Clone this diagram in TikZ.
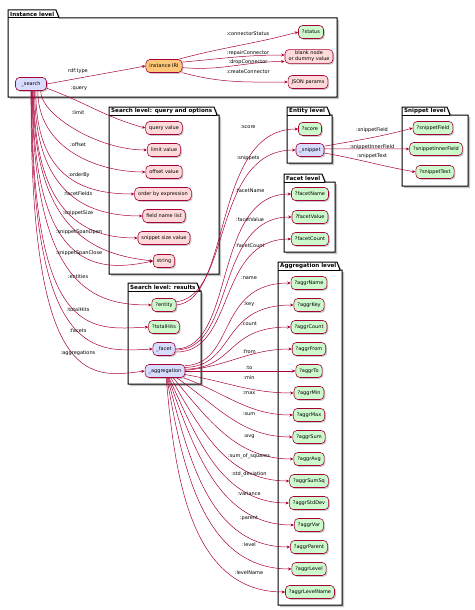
\documentclass[tikz,border=0pt]{standalone}
\usepackage{fontspec}
\setmainfont{DejaVu Sans}
\usetikzlibrary{arrows.meta,shadows}

\definecolor{umlred}{HTML}{A80036}
\definecolor{litpink}{HTML}{FFDADA}
\definecolor{vargreen}{HTML}{CCFACC}
\definecolor{bnodeblue}{HTML}{D8DCFF}
\definecolor{iriorange}{HTML}{FFC878}

\begin{document}
\begin{tikzpicture}[x=1pt,y=-1pt,font=\fontsize{5}{6}\selectfont]
    \tikzstyle{term}=[draw=umlred,line width=0.6pt,rounded corners=4pt,minimum height=13pt,inner xsep=3.5pt,inner ysep=1.5pt,align=center,drop shadow={shadow xshift=1.3pt,shadow yshift=-1.3pt,fill=black!40}]
    \tikzstyle{litterm}=[term,fill=litpink]
    \tikzstyle{varterm}=[term,fill=vargreen]
    \tikzstyle{bnodeterm}=[term,fill=bnodeblue]
    \tikzstyle{iriterm}=[term,fill=iriorange]
    \tikzstyle{prop}=[umlred,line width=0.5pt,-{Stealth[length=3.5pt,width=3pt]}]
    \tikzstyle{prop label}=[inner sep=0.5pt]
    \tikzstyle{package}=[draw=black,line width=1pt,fill=white,drop shadow={shadow xshift=2pt,shadow yshift=-2pt,fill=black!45}]
    \tikzstyle{package title}=[anchor=west,inner sep=0pt,font=\fontsize{5.6}{6}\selectfont\bfseries]

    \fill[white] (0,0) rectangle (474,610);

    % packages
    \draw[package] (8,10) -- (56,10) -- (59,18) -- (337,18) -- (337,97) -- (8,97) -- cycle;
    \draw[line width=1pt] (8,18) -- (59,18);
    \node[package title] (instanceLevel) at (10,14) {Instance level};

    \draw[package] (109,107) -- (214,107) -- (217,115) -- (219,115) -- (219,274) -- (109,274) -- cycle;
    \draw[line width=1pt] (109,115) -- (217,115);
    \node[package title] (optionsLevel) at (111,111) {Search level: query and options};

    \draw[package] (287,107) -- (327,107) -- (330,115) -- (332,115) -- (332,163) -- (287,163) -- cycle;
    \draw[line width=1pt] (287,115) -- (330,115);
    \node[package title] (entityLevel) at (289,111) {Entity level};

    \draw[package] (402,107) -- (447,107) -- (450,115) -- (468,115) -- (468,186) -- (402,186) -- cycle;
    \draw[line width=1pt] (402,115) -- (450,115);
    \node[package title] (snippetLevel) at (404,111) {Snippet level};

    \draw[package] (284,174) -- (322,174) -- (325,182) -- (335,182) -- (335,252) -- (284,252) -- cycle;
    \draw[line width=1pt] (284,182) -- (325,182);
    \node[package title] (facetLevel) at (286,178) {Facet level};

    \draw[package] (128,283) -- (197,283) -- (200,291) -- (201,291) -- (201,384) -- (128,384) -- cycle;
    \draw[line width=1pt] (128,291) -- (200,291);
    \node[package title] (resultsLevel) at (130,287) {Search level: results};

    \draw[package] (278,262) -- (337,262) -- (340,270) -- (342,270) -- (342,605) -- (278,605) -- cycle;
    \draw[line width=1pt] (278,270) -- (340,270);
    \node[package title] (aggregationLevel) at (280,266) {Aggregation level};

    % instance level
    \node[bnodeterm,minimum width=31pt] (search) at (31,84) {\_search};
    \node[iriterm] (iri) at (164,66) {instance IRI};
    \node[varterm] (status) at (311,32) {?status};
    \node[litterm] (dummy) at (309,56.5) {blank node\\or dummy value};
    \node[litterm] (jsonParams) at (308,82) {JSON params};

    % query and options
    \node[litterm] (queryValue) at (164,128) {query value};
    \node[litterm] (limitValue) at (164,150) {limit value};
    \node[litterm] (offsetValue) at (164,172) {offset value};
    \node[litterm] (orderExpr) at (163,194) {order by expression};
    \node[litterm] (fieldList) at (164,216) {field name list};
    \node[litterm] (sizeValue) at (164,238) {snippet size value};
    \node[litterm] (spanString) at (164,261) {string};

    % results
    \node[varterm] (entity) at (164,305) {?entity};
    \node[varterm] (totalHits) at (164,327) {?totalHits};
    \node[bnodeterm] (facet) at (164,349) {\_facet};
    \node[bnodeterm] (aggregation) at (165,371) {\_aggregation};

    % entity and snippets
    \node[varterm] (score) at (310,129) {?score};
    \node[bnodeterm] (snippet) at (310,150) {\_snippet};
    \node[varterm] (snippetField) at (433,128) {?snippetField};
    \node[varterm] (snippetInner) at (436,149) {?snippetInnerField};
    \node[varterm] (snippetText) at (435,172) {?snippetText};

    % facets
    \node[varterm] (facetName) at (310,194) {?facetName};
    \node[varterm] (facetValue) at (310,217) {?facetValue};
    \node[varterm] (facetCount) at (310,239) {?facetCount};

    % aggregations
    \node[varterm] (aggrName) at (309,283) {?aggrName};
    \node[varterm] (aggrKey) at (309,305) {?aggrKey};
    \node[varterm] (aggrCount) at (309,327) {?aggrCount};
    \node[varterm] (aggrFrom) at (309,349) {?aggrFrom};
    \node[varterm] (aggrTo) at (309,371) {?aggrTo};
    \node[varterm] (aggrMin) at (309,393) {?aggrMin};
    \node[varterm] (aggrMax) at (309,415) {?aggrMax};
    \node[varterm] (aggrSum) at (309,437) {?aggrSum};
    \node[varterm] (aggrAvg) at (309,459) {?aggrAvg};
    \node[varterm] (aggrSumSq) at (309,481) {?aggrSumSq};
    \node[varterm] (aggrStdDev) at (309,503) {?aggrStdDev};
    \node[varterm] (aggrVar) at (309,525) {?aggrVar};
    \node[varterm] (aggrParent) at (309,547) {?aggrParent};
    \node[varterm] (aggrLevel) at (309,569) {?aggrLevel};
    \node[varterm] (aggrLevelName) at (310,592) {?aggrLevelName};

    % connector properties
    \draw[prop] (search.east) -- (iri.west);
    \draw[prop] (iri.25) to[out=15,in=195] (status.west);
    \draw[prop] (iri.12) to[out=5,in=180] ([yshift=1.5pt]dummy.west);
    \draw[prop] (iri.-5) to[out=-5,in=180] ([yshift=-5pt]dummy.west);
    \draw[prop] (iri.-20) to[out=-15,in=180] (jsonParams.west);
    \node[prop label] (lblType) at (78,71) {rdf:type};
    \node[prop label] (lblStatus) at (248,34) {:connectorStatus};
    \node[prop label] (lblRepair) at (248,53) {:repairConnector};
    \node[prop label] (lblDrop) at (248,62) {:dropConnector};
    \node[prop label] (lblCreate) at (248,72) {:createConnector};

    % search properties
    \draw[prop] (search.-15) to[out=-20,in=165] (queryValue.west);
    \draw[prop] (search.-35) .. controls (40,114) and (97,150) .. (limitValue.west);
    \draw[prop] (search.-45) .. controls (38,148) and (96,172) .. (offsetValue.west);
    \draw[prop] (search.-55) .. controls (36,178) and (83,194) .. (orderExpr.west);
    \draw[prop] (search.-62) .. controls (35,199) and (92,216) .. (fieldList.west);
    \draw[prop] (search.-68) .. controls (34,218) and (88,238) .. (sizeValue.west);
    \draw[prop] (search.-72) .. controls (33,237) and (100,255) .. (spanString.west);
    \draw[prop] (search.-76) .. controls (33,275) and (100,272) .. (spanString.west);
    \draw[prop] (search.-80) .. controls (33,290) and (95,305) .. (entity.west);
    \draw[prop] (search.-84) .. controls (32,340) and (90,330) .. (totalHits.west);
    \draw[prop] (search.-87) .. controls (31,362) and (95,352) .. (facet.west);
    \draw[prop] (search.-90) .. controls (30,390) and (90,378) .. (aggregation.west);
    \node[prop label] (lblQuery) at (79,89) {:query};
    \node[prop label] (lblLimit) at (78,113) {:limit};
    \node[prop label] (lblOffset) at (78,145) {:offset};
    \node[prop label] (lblOrder) at (79,175) {:orderBy};
    \node[prop label] (lblFields) at (78,194) {:facetFields};
    \node[prop label] (lblSize) at (78,213) {:snippetSize};
    \node[prop label] (lblOpen) at (79,232) {:snippetSpanOpen};
    \node[prop label] (lblClose) at (79,253) {:snippetSpanClose};
    \node[prop label] (lblEntities) at (78,277) {:entities};
    \node[prop label] (lblHits) at (78,310) {:totalHits};
    \node[prop label] (lblFacets) at (78,331) {:facets};
    \node[prop label] (lblAggrs) at (78,353) {:aggregations};

    % entity and snippet properties
    \draw[prop] (entity.east) .. controls (232,300) and (212,129) .. (score.west);
    \draw[prop] (entity.15) .. controls (232,296) and (212,150) .. (snippet.west);
    \draw[prop] (snippet.15) to[out=10,in=195] (snippetField.west);
    \draw[prop] (snippet.5) -- (snippetInner.west);
    \draw[prop] (snippet.-12) to[out=-10,in=170] (snippetText.west);
    \node[prop label] (lblScore) at (248,127) {:score};
    \node[prop label] (lblSnippets) at (248,158) {:snippets};
    \node[prop label] (lblField) at (372,130) {:snippetField};
    \node[prop label] (lblInner) at (372,147) {:snippetInnerField};
    \node[prop label] (lblText) at (372,156) {:snippetText};

    % facet properties
    \draw[prop] (facet.east) .. controls (236,349) and (212,194) .. (facetName.west);
    \draw[prop] (facet.-5) .. controls (236,351) and (214,217) .. (facetValue.west);
    \draw[prop] (facet.-15) .. controls (236,353) and (216,239) .. (facetCount.west);
    \node[prop label] (lblName) at (250,191) {:facetName};
    \node[prop label] (lblValue) at (250,220) {:facetValue};
    \node[prop label] (lblCount) at (250,246) {:facetCount};

    % aggregation properties
    \draw[prop] (aggregation.15) .. controls (236,364) and (216,283) .. (aggrName.west);
    \draw[prop] (aggregation.10) .. controls (236,366) and (220,305) .. (aggrKey.west);
    \draw[prop] (aggregation.5) .. controls (236,368) and (226,327) .. (aggrCount.west);
    \draw[prop] (aggregation.2) to[out=5,in=180] (aggrFrom.west);
    \draw[prop] (aggregation.east) -- (aggrTo.west);
    \draw[prop] (aggregation.-10) to[out=-10,in=180] (aggrMin.west);
    \draw[prop] (aggregation.-20) to[out=-20,in=180] (aggrMax.west);
    \draw[prop] (aggregation.-30) to[out=-35,in=180] (aggrSum.west);
    \draw[prop] (aggregation.-40) to[out=-50,in=180] (aggrAvg.west);
    \draw[prop] (aggregation.-50) to[out=-60,in=180] (aggrSumSq.west);
    \draw[prop] (aggregation.-60) to[out=-65,in=180] (aggrStdDev.west);
    \draw[prop] (aggregation.-65) to[out=-70,in=180] (aggrVar.west);
    \draw[prop] (aggregation.-70) to[out=-75,in=180] (aggrParent.west);
    \draw[prop] (aggregation.-75) to[out=-80,in=180] (aggrLevel.west);
    \draw[prop] (aggregation.-80) to[out=-85,in=180] (aggrLevelName.west);
    \node[prop label] (lblAggrName) at (249,278) {:name};
    \node[prop label] (lblAggrKey) at (249,304) {:key};
    \node[prop label] (lblAggrCount) at (249,324) {:count};
    \node[prop label] (lblAggrFrom) at (249,352) {:from};
    \node[prop label] (lblAggrTo) at (249,368) {:to};
    \node[prop label] (lblAggrMin) at (249,378) {:min};
    \node[prop label] (lblAggrMax) at (249,393) {:max};
    \node[prop label] (lblAggrSum) at (249,414) {:sum};
    \node[prop label] (lblAggrAvg) at (249,437) {:avg};
    \node[prop label] (lblAggrSumSq) at (249,456) {:sum\_of\_squares};
    \node[prop label] (lblAggrStdDev) at (249,474) {:std\_deviation};
    \node[prop label] (lblAggrVar) at (249,494) {:variance};
    \node[prop label] (lblAggrParent) at (249,518) {:parent};
    \node[prop label] (lblAggrLevel) at (249,545) {:level};
    \node[prop label] (lblAggrLevelName) at (249,573) {:levelName};
\end{tikzpicture}
\end{document}
